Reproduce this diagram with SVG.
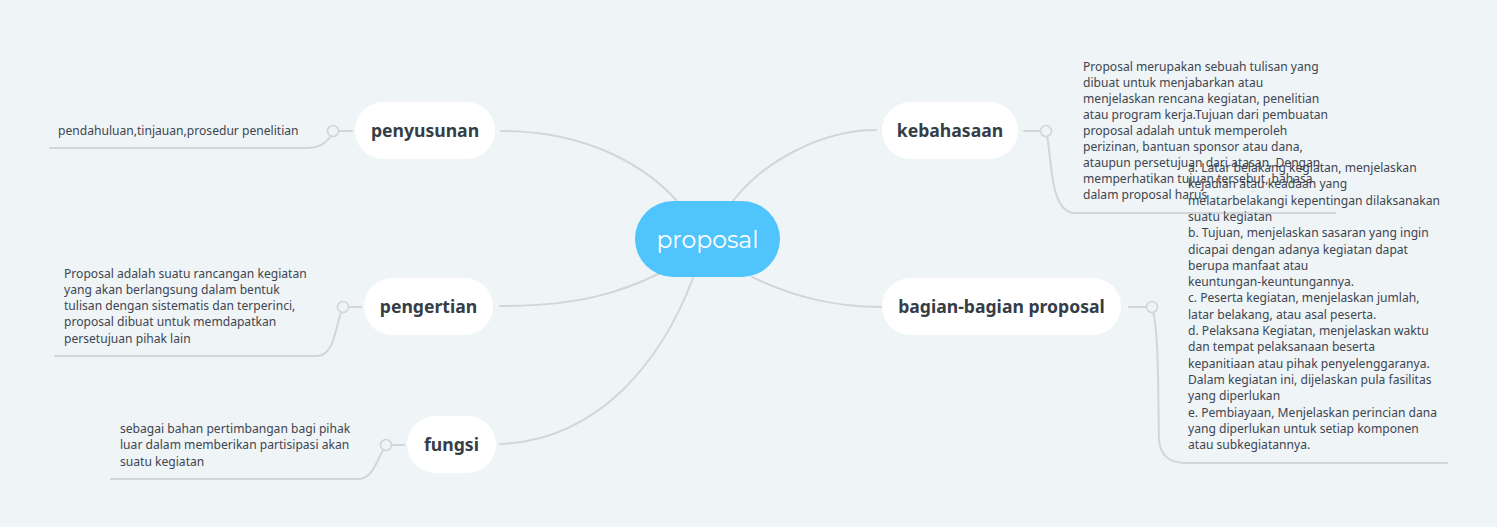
<svg xmlns="http://www.w3.org/2000/svg" width="1497" height="527" viewBox="0 0 1497 527">
<style>
.bg{fill:#eff4f7}
.conn{fill:none;stroke:#d2d6d9;stroke-width:2;stroke-linecap:round}
.dot{fill:#eff4f7;stroke:#d2d6d9;stroke-width:1.6}
.pill{fill:#ffffff}
.title{font-family:"Noto Sans","Open Sans",sans-serif;font-weight:700;font-size:17.6px;fill:#353d46;text-anchor:middle}
.note{font-family:"Noto Sans","Open Sans",sans-serif;font-size:12.1px;fill:#3d4650}
.root{fill:#50c4fd}
.roottext{font-family:"Montserrat","Open Sans",sans-serif;font-size:23.5px;fill:#ffffff;text-anchor:middle}
</style>
<rect class="bg" x="0" y="0" width="1497" height="527"/>
<g id="connectors">
<path class="conn" d="M 501 131 C 590 131, 648 168, 678 202"/>
<path class="conn" d="M 733 201 C 762 163, 820 130, 876 130"/>
<path class="conn" d="M 500 306 C 580 306, 622 292, 660 273"/>
<path class="conn" d="M 500 444 C 600 440, 662 360, 693 278"/>
<path class="conn" d="M 752 277 C 792 296, 832 307, 882 307"/>
<path class="conn" d="M 339 131 L 352 131"/>
<path class="conn" d="M 331 136 C 324 145, 318 148, 305 148 L 50 148"/>
<path class="conn" d="M 349 307 L 361 307"/>
<path class="conn" d="M 341 312 C 334 335, 333 356, 316 356 L 55 356"/>
<path class="conn" d="M 392 445 L 404 445"/>
<path class="conn" d="M 383 450 C 375 465, 372 479, 357 479 L 111 479"/>
<path class="conn" d="M 1024 131 L 1040 131"/>
<path class="conn" d="M 1047 136 C 1052 160, 1050 213, 1075 213 L 1335 213"/>
<path class="conn" d="M 1129 307 L 1146 307"/>
<path class="conn" d="M 1153 312 C 1159 332, 1158 400, 1159 440 Q 1161 463 1186 463 L 1447 463"/>
<circle class="dot" cx="333" cy="131" r="5.5"/>
<circle class="dot" cx="343" cy="307" r="5.5"/>
<circle class="dot" cx="386" cy="445" r="5.5"/>
<circle class="dot" cx="1046" cy="131" r="5.5"/>
<circle class="dot" cx="1152" cy="307" r="5.5"/>
</g>
<g id="node-proposal">
<rect class="root" x="635" y="201" width="145" height="76" rx="38"/>
<text class="roottext" x="707.5" y="248">proposal</text>
</g>
<g id="node-penyusunan">
<rect class="pill" x="355" y="102" width="140" height="57" rx="28.5"/>
<text class="title" x="425" y="137">penyusunan</text>
</g>
<g id="node-pengertian">
<rect class="pill" x="364" y="278" width="129" height="57" rx="28.5"/>
<text class="title" x="428.5" y="313">pengertian</text>
</g>
<g id="node-fungsi">
<rect class="pill" x="407" y="416" width="89" height="57" rx="28.5"/>
<text class="title" x="451.5" y="451">fungsi</text>
</g>
<g id="node-kebahasaan">
<rect class="pill" x="882" y="102" width="136" height="57" rx="28.5"/>
<text class="title" x="950" y="137">kebahasaan</text>
</g>
<g id="node-bagian">
<rect class="pill" x="882" y="278" width="239" height="57" rx="28.5"/>
<text class="title" x="1001.5" y="313">bagian-bagian proposal</text>
</g>
<g id="note-penyusunan">
<text class="note" x="58" y="135">pendahuluan,tinjauan,prosedur penelitian</text>
</g>
<g id="note-pengertian">
<text class="note" x="64" y="277.5">Proposal adalah suatu rancangan kegiatan</text>
<text class="note" x="64" y="293.7">yang akan berlangsung dalam bentuk</text>
<text class="note" x="64" y="310">tulisan dengan sistematis dan terperinci,</text>
<text class="note" x="64" y="326.2">proposal dibuat untuk memdapatkan</text>
<text class="note" x="64" y="342.5">persetujuan pihak lain</text>
</g>
<g id="note-fungsi">
<text class="note" x="120" y="432.5">sebagai bahan pertimbangan bagi pihak</text>
<text class="note" x="120" y="449">luar dalam memberikan partisipasi akan</text>
<text class="note" x="120" y="465.5">suatu kegiatan</text>
</g>
<g id="note-kebahasaan">
<text class="note" x="1083" y="71">Proposal merupakan sebuah tulisan yang</text>
<text class="note" x="1083" y="87">dibuat untuk menjabarkan atau</text>
<text class="note" x="1083" y="103">menjelaskan rencana kegiatan, penelitian</text>
<text class="note" x="1083" y="119">atau program kerja.Tujuan dari pembuatan</text>
<text class="note" x="1083" y="135">proposal adalah untuk memperoleh</text>
<text class="note" x="1083" y="151">perizinan, bantuan sponsor atau dana,</text>
<text class="note" x="1083" y="167">ataupun persetujuan dari atasan. Dengan</text>
<text class="note" x="1083" y="183">memperhatikan tujuan tersebut, bahasa</text>
<text class="note" x="1083" y="199">dalam proposal harus</text>
</g>
<g id="note-bagian">
<text class="note" x="1188" y="172">a. Latar belakang kegiatan, menjelaskan</text>
<text class="note" x="1188" y="188.3">kejadian atau keadaan yang</text>
<text class="note" x="1188" y="204.6">melatarbelakangi kepentingan dilaksanakan</text>
<text class="note" x="1188" y="220.9">suatu kegiatan</text>
<text class="note" x="1188" y="237.2">b. Tujuan, menjelaskan sasaran yang ingin</text>
<text class="note" x="1188" y="253.5">dicapai dengan adanya kegiatan dapat</text>
<text class="note" x="1188" y="269.8">berupa manfaat atau</text>
<text class="note" x="1188" y="286.1">keuntungan-keuntungannya.</text>
<text class="note" x="1188" y="302.4">c. Peserta kegiatan, menjelaskan jumlah,</text>
<text class="note" x="1188" y="318.7">latar belakang, atau asal peserta.</text>
<text class="note" x="1188" y="335">d. Pelaksana Kegiatan, menjelaskan waktu</text>
<text class="note" x="1188" y="351.3">dan tempat pelaksanaan beserta</text>
<text class="note" x="1188" y="367.6">kepanitiaan atau pihak penyelenggaranya.</text>
<text class="note" x="1188" y="383.9">Dalam kegiatan ini, dijelaskan pula fasilitas</text>
<text class="note" x="1188" y="400.2">yang diperlukan</text>
<text class="note" x="1188" y="416.5">e. Pembiayaan, Menjelaskan perincian dana</text>
<text class="note" x="1188" y="432.8">yang diperlukan untuk setiap komponen</text>
<text class="note" x="1188" y="449.1">atau subkegiatannya.</text>
</g>
</svg>
